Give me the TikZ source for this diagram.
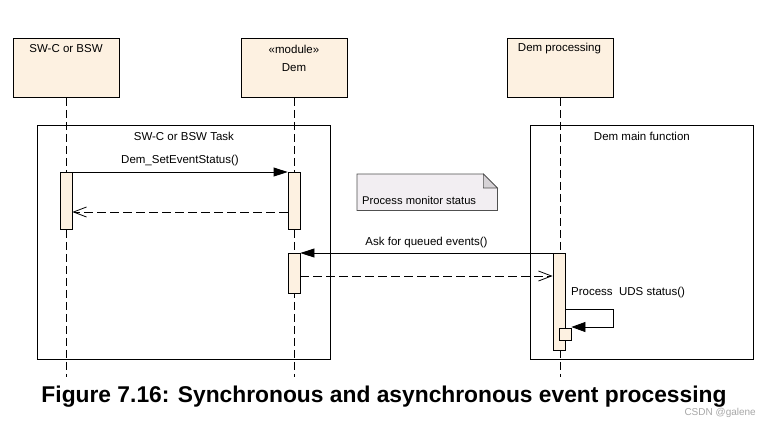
\documentclass[tikz,border=0pt]{standalone}
\usepackage{fontspec}
\setmainfont{Liberation Sans}
\usetikzlibrary{arrows.meta}
\definecolor{cream}{HTML}{FDF1E1}
\definecolor{notefill}{HTML}{F2EEF2}
\definecolor{notefold}{HTML}{D6D2D6}
\definecolor{noteline}{HTML}{505050}
\definecolor{wm}{HTML}{A8A8A8}
\begin{document}
\begin{tikzpicture}[x=1pt,y=1pt,
  actor/.style={draw,fill=cream,line width=0.8pt,minimum width=106pt,minimum height=59pt,anchor=north west,inner sep=0pt},
  frame/.style={draw,line width=0.8pt,minimum height=234pt,anchor=north west,inner sep=0pt},
  txt/.style={font=\fontsize{11.5}{13}\selectfont,inner sep=0pt},
  lifeline/.style={line width=0.8pt,dash pattern=on 8pt off 4pt},
  actbar/.style={draw,fill=cream,line width=0.8pt,minimum width=12pt,inner sep=0pt,anchor=north},
  callmsg/.style={line width=0.8pt,-{Triangle[length=14pt,width=9pt]}},
  retmsg/.style={line width=0.8pt,dash pattern=on 9pt off 4pt,-{Straight Barb[length=13pt,width=10pt,line width=0.8pt]}},
  notestyle/.style={draw=noteline,fill=notefill,line width=0.8pt}
]
\useasboundingbox (0,0) rectangle (771,-424);
\fill[white] (0,0) rectangle (771,-424);

% frames
\node[frame,minimum width=293pt] (task) at (37,-125) {};
\node[frame,minimum width=223pt] (mainf) at (530,-125) {};
\node[txt] (taskt) at ([yshift=-11pt]task.north) {SW-C or BSW Task};
\node[txt] (mainft) at ([yshift=-11pt]mainf.north) {Dem main function};

% actors
\node[actor] (swc) at (13,-38) {};
\node[actor] (dem) at (241,-38) {};
\node[actor] (demp) at (507,-38) {};
\node[txt] (swct) at (66,-49) {SW-C or BSW};
\node[txt] (demst) at (294,-49) {«module»};
\node[txt] (demt) at (294,-68) {Dem};
\node[txt] (dempt) at (559.5,-49) {Dem processing};

% lifelines
\coordinate (swcend) at (swc.south |- 0,-377);
\coordinate (demend) at (dem.south |- 0,-377);
\coordinate (dempend) at (demp.south |- 0,-377);
\draw[lifeline] (swc.south) -- (swcend);
\draw[lifeline] (dem.south) -- (demend);
\draw[lifeline] (demp.south) -- (dempend);

% activation bars
\node[actbar,minimum height=57pt] (a1) at (66,-172) {};
\node[actbar,minimum height=57pt] (d1) at (294,-172) {};
\node[actbar,minimum height=40pt] (d2) at (294,-253) {};
\node[actbar,minimum height=97pt] (p1) at (559,-253) {};
\node[actbar,minimum height=12pt] (p2) at (565,-328) {};

% messages
\draw[callmsg] (a1.north east) -- node[txt,above=6pt] (m1t) {Dem\_SetEventStatus()} (d1.north west);
\coordinate (r1y) at (0,-212);
\draw[retmsg] (d1.west |- r1y) -- (a1.east |- r1y);
\draw[callmsg] (p1.north west) -- node[txt,above=5pt] (m3t) {Ask for queued events()} (d2.north east);
\coordinate (r2y) at (0,-276);
\draw[retmsg] (d2.east |- r2y) -- (p1.west |- r2y);
\coordinate (s1) at (613,-309);
\coordinate (s2) at (613,-327);
\draw[line width=0.8pt,-{Triangle[length=14pt,width=10pt]}] (p1.east |- s1) -- (s1) -- (s2) -- (p2.east |- s2);
\node[txt,anchor=west] (selft) at (571,-293) {Process\ \ UDS status()};

% note
\node[minimum width=140pt,minimum height=36pt,anchor=north west,inner sep=0pt] (note) at (357,-174) {};
\draw[notestyle] (note.north west) -- ([xshift=-14pt]note.north east) -- ([yshift=-14pt]note.north east) -- (note.south east) -- (note.south west) -- cycle;
\draw[draw=noteline,fill=notefold,line width=0.6pt] ([xshift=-14pt]note.north east) -- ([xshift=-14pt,yshift=-14pt]note.north east) -- ([yshift=-14pt]note.north east) -- cycle;
\node[txt,anchor=west,font=\fontsize{11.2}{13}\selectfont] (notet) at (362,-200) {Process monitor status};

% caption
\node[inner sep=0pt,font=\fontsize{22.8}{26}\selectfont\bfseries] (cap) at (384,-397) {Figure 7.16: Synchronous and asynchronous event processing};
\node[inner sep=0pt,anchor=east,text=wm,font=\fontsize{10}{12}\selectfont] (wmk) at (756,-413) {CSDN @galene};
\end{tikzpicture}
\end{document}
